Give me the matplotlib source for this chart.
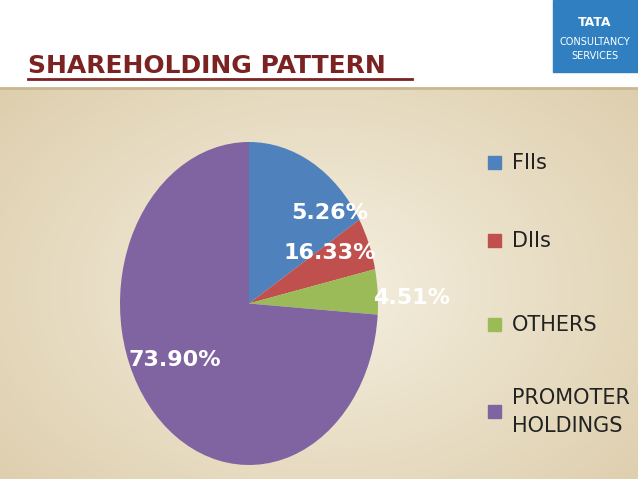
import matplotlib
matplotlib.use("Agg")
import matplotlib.pyplot as plt
import numpy as np

categories = ["FIIs", "DIIs", "OTHERS", "PROMOTER\nHOLDINGS"]
values = [16.33, 5.26, 4.51, 73.90]
shown_labels = ["5.26%", "16.33%", "4.51%", "73.90%"]
colors = ["#4f81bd", "#c0504d", "#9bbb59", "#8064a2"]

W, H = 638, 479
fig = plt.figure(figsize=(W/100, H/100), dpi=100)

# background
bg = fig.add_axes([0, 0, 1, 1])
bg.set_xlim(0, W); bg.set_ylim(H, 0); bg.axis("off")
yy, xx = np.mgrid[0:391, 0:W]
d = np.sqrt(((xx - 320) / 420) ** 2 + ((yy - 200) / 300) ** 2)
c0 = np.array([0.96, 0.94, 0.88]); c1 = np.array([0.87, 0.81, 0.68])
t = np.clip(d, 0, 1)[..., None]
img = c0 * (1 - t) + c1 * t
bg.imshow(img, extent=[0, W, H, 88], aspect="auto", zorder=0)
bg.add_patch(plt.Rectangle((0, 0), W, 88, color="white", zorder=1))
bg.plot([0, W], [88, 88], color="#c8b890", lw=2, zorder=2)
bg.add_patch(plt.Rectangle((553, 0), 85, 72, color="#2f7fc1", zorder=3))
bg.text(595, 22, "TATA", color="white", fontsize=9, fontweight="bold", ha="center", va="center", zorder=4)
bg.text(595, 42, "CONSULTANCY", color="white", fontsize=7, ha="center", va="center", zorder=4)
bg.text(595, 56, "SERVICES", color="white", fontsize=7, ha="center", va="center", zorder=4)
bg.text(28, 73, "SHAREHOLDING PATTERN", color="#7b2222", fontsize=18, fontweight="bold", va="baseline", zorder=4)
bg.plot([28, 412], [79, 79], color="#7b2222", lw=2, zorder=4)

# legend
ly = [163, 241, 325, 412]
for cat, col, y in zip(categories, colors, ly):
    bg.add_patch(plt.Rectangle((488, y - 7), 13, 13, color=col, zorder=4))
    bg.text(512, y, cat, fontsize=15, color="#222222", va="center", ha="left",
            linespacing=1.55, zorder=4)

# pie (stretched vertically as in the slide)
ax = fig.add_axes([120/W, (H-465)/H, 258/W, 323/H], zorder=5)
ax.pie(values, colors=colors, startangle=90, counterclock=False,
       wedgeprops=dict(edgecolor="none"))
ax.set_aspect("auto")
ax.set_xlim(-1, 1); ax.set_ylim(-1, 1)

top = fig.add_axes([0, 0, 1, 1], zorder=6)
top.set_xlim(0, W); top.set_ylim(H, 0); top.axis("off")
pos = [(330, 213), (330, 253), (412, 298), (175, 360)]
for lab, (x, y) in zip(shown_labels, pos):
    top.text(x, y, lab, fontsize=16, fontweight="bold", color="white", ha="center", va="center")

fig.savefig("out.png", dpi=100)
